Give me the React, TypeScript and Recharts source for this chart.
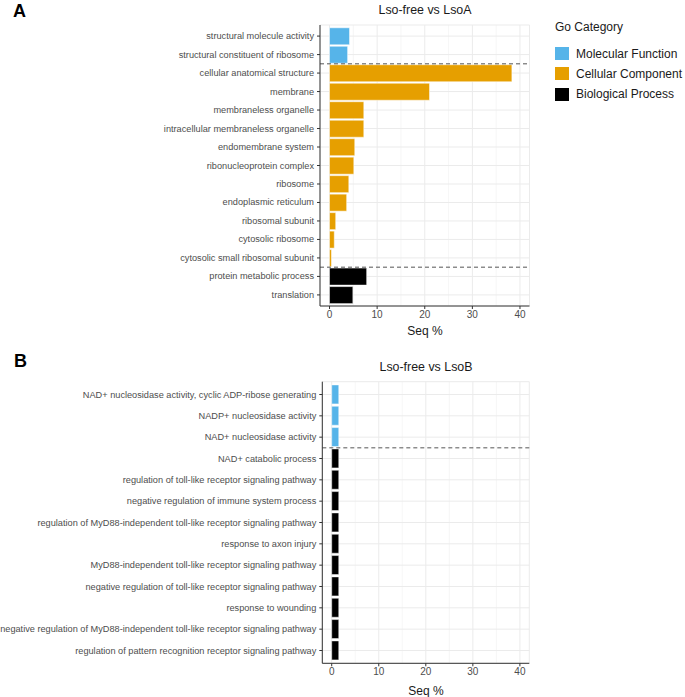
import {
  Bar,
  BarChart,
  CartesianGrid,
  Cell,
  ReferenceLine,
  XAxis,
  YAxis,
} from 'recharts'

// GO category colours (Okabe-Ito)
const CATEGORY_COLORS: Record<string, string> = {
  MF: '#56B4E9',
  CC: '#E69F00',
  BP: '#000000',
}

const LEGEND_ITEMS = [
  { key: 'MF', label: 'Molecular Function' },
  { key: 'CC', label: 'Cellular Component' },
  { key: 'BP', label: 'Biological Process' },
]

// Panel A: Lso-free vs LsoA
const termsA = [
  'structural molecule activity',
  'structural constituent of ribosome',
  'cellular anatomical structure',
  'membrane',
  'membraneless organelle',
  'intracellular membraneless organelle',
  'endomembrane system',
  'ribonucleoprotein complex',
  'ribosome',
  'endoplasmic reticulum',
  'ribosomal subunit',
  'cytosolic ribosome',
  'cytosolic small ribosomal subunit',
  'protein metabolic process',
  'translation',
]
const valuesA = [4.2, 3.8, 38.3, 21.0, 7.2, 7.2, 5.3, 5.1, 4.05, 3.6, 1.3, 1.0, 0.4, 7.8, 4.9]
const groupsA = ['MF', 'MF', 'CC', 'CC', 'CC', 'CC', 'CC', 'CC', 'CC', 'CC', 'CC', 'CC', 'CC', 'BP', 'BP']

// Panel B: Lso-free vs LsoB
const termsB = [
  'NAD+ nucleosidase activity, cyclic ADP-ribose generating',
  'NADP+ nucleosidase activity',
  'NAD+ nucleosidase activity',
  'NAD+ catabolic process',
  'regulation of toll-like receptor signaling pathway',
  'negative regulation of immune system process',
  'regulation of MyD88-independent toll-like receptor signaling pathway',
  'response to axon injury',
  'MyD88-independent toll-like receptor signaling pathway',
  'negative regulation of toll-like receptor signaling pathway',
  'response to wounding',
  'negative regulation of MyD88-independent toll-like receptor signaling pathway',
  'regulation of pattern recognition receptor signaling pathway',
]
const valuesB = [1.5, 1.5, 1.5, 1.5, 1.5, 1.5, 1.5, 1.5, 1.5, 1.5, 1.5, 1.5, 1.5]
const groupsB = ['MF', 'MF', 'MF', 'BP', 'BP', 'BP', 'BP', 'BP', 'BP', 'BP', 'BP', 'BP', 'BP']

const xTicks = [0, 10, 20, 30, 40]
const xMinorTicks = [5, 15, 25, 35]
const X_DOMAIN: [number, number] = [-2, 42]

const FONT = '"Liberation Sans", Arial, Helvetica, sans-serif'

// plain tick label, no wrapping
const TermTick = ({ x, y, payload }: { x?: number; y?: number; payload?: { value: string } }) => (
  <text x={x} y={y} textAnchor="end" dominantBaseline="central" fill="#4d4d4d" fontSize={9.2} fontFamily={FONT}>
    {payload?.value}
  </text>
)

// minor vertical grid positions, mapped through the x domain
const minorGridX = ({ offset }: any) =>
  xMinorTicks.map(
    (t) => offset.left + ((t - X_DOMAIN[0]) / (X_DOMAIN[1] - X_DOMAIN[0])) * offset.width
  )

interface PanelProps {
  terms: string[]
  values: number[]
  groups: string[]
  top: number
  height: number
  marginTop: number
  plotLeft: number
  plotRight: number
  plotHeight: number
}

function GoPanel({ terms, values, groups, top, height, marginTop, plotLeft, plotRight, plotHeight }: PanelProps) {
  const data = terms.map((term, i) => ({ term, value: values[i], group: groups[i] }))
  const n = terms.length
  // ggplot discrete expansion: 0.6 of a step on each side
  const step = plotHeight / (n + 0.2)
  const pad = step * 0.1
  const xAxisHeight = height - marginTop - plotHeight
  // dashed separators above the first term of each new GO category
  const boundaryTerms = terms.filter((_, i) => i > 0 && groups[i] !== groups[i - 1])

  return (
    <div style={{ position: 'absolute', left: 0, top, width: 685, height }}>
      <BarChart
        width={685}
        height={height}
        data={data}
        layout="vertical"
        barCategoryGap="5%"
        margin={{ top: marginTop, right: 685 - plotRight, left: 0, bottom: 0 }}
      >
        <CartesianGrid
          stroke="#f0f0f0"
          strokeWidth={0.6}
          horizontal={false}
          verticalCoordinatesGenerator={minorGridX}
        />
        <CartesianGrid stroke="#ebebeb" strokeWidth={1} />
        <XAxis
          type="number"
          domain={X_DOMAIN}
          ticks={xTicks}
          allowDataOverflow
          height={xAxisHeight}
          axisLine={{ stroke: '#333333' }}
          tickSize={3}
          tickMargin={2}
          tickLine={{ stroke: '#333333' }}
          tick={{ fill: '#4d4d4d', fontSize: 10, fontFamily: FONT }}
        />
        <XAxis
          xAxisId="top"
          orientation="top"
          type="number"
          domain={X_DOMAIN}
          allowDataOverflow
          height={0}
          tick={false}
          tickLine={false}
          axisLine={{ stroke: '#333333' }}
        />
        <YAxis
          type="category"
          dataKey="term"
          width={plotLeft}
          interval={0}
          axisLine={{ stroke: '#333333' }}
          tickSize={3}
          tickMargin={3}
          padding={{ top: pad, bottom: pad }}
          tickLine={{ stroke: '#333333' }}
          tick={<TermTick />}
        />
        <YAxis
          yAxisId="right"
          orientation="right"
          type="number"
          width={0}
          tick={false}
          tickLine={false}
          axisLine={{ stroke: '#333333' }}
        />
        <Bar dataKey="value" stroke="#ffffff" strokeWidth={0.5} isAnimationActive={false}>
          {data.map((d, i) => (
            <Cell key={`cell-${i}`} fill={CATEGORY_COLORS[d.group]} />
          ))}
        </Bar>
        {boundaryTerms.map((t) => (
          <ReferenceLine
            key={`sep-${t}`}
            y={t}
            shape={(p: any) => (
              <line
                x1={p.x1}
                x2={p.x2}
                y1={p.y1 - step / 2}
                y2={p.y2 - step / 2}
                stroke="#555555"
                strokeWidth={1}
                strokeDasharray="4 3"
              />
            )}
          />
        ))}
      </BarChart>
    </div>
  )
}

export default function App() {
  const textBase = { position: 'absolute' as const, fontFamily: FONT, whiteSpace: 'nowrap' as const, lineHeight: 1 }
  const titleStyle = { ...textBase, fontSize: 12.4, color: '#1a1a1a', transform: 'translate(-50%, -50%)' }
  const axisTitleStyle = { ...textBase, fontSize: 12, color: '#1a1a1a', transform: 'translate(-50%, -50%)' }

  return (
    <div style={{ position: 'absolute', left: 0, top: 0, width: 685, height: 697, background: '#ffffff', overflow: 'hidden' }}>
      <GoPanel
        terms={termsA}
        values={valuesA}
        groups={groupsA}
        top={0}
        height={335}
        marginTop={25}
        plotLeft={320}
        plotRight={529.5}
        plotHeight={281}
      />
      <GoPanel
        terms={termsB}
        values={valuesB}
        groups={groupsB}
        top={340}
        height={350}
        marginTop={41.7}
        plotLeft={322.3}
        plotRight={529.3}
        plotHeight={281.6}
      />

      {/* panel letters */}
      <div style={{ ...textBase, left: 13, top: 2, fontSize: 18, fontWeight: 'bold', color: '#000' }}>A</div>
      <div style={{ ...textBase, left: 14, top: 352, fontSize: 18, fontWeight: 'bold', color: '#000' }}>B</div>

      {/* titles */}
      <div style={{ ...titleStyle, left: 425, top: 10 }}>Lso-free vs LsoA</div>
      <div style={{ ...titleStyle, left: 426, top: 367 }}>Lso-free vs LsoB</div>

      {/* axis titles */}
      <div style={{ ...axisTitleStyle, left: 425, top: 331 }}>Seq %</div>
      <div style={{ ...axisTitleStyle, left: 426, top: 691 }}>Seq %</div>

      {/* legend */}
      <div style={{ ...textBase, left: 555, top: 21, fontSize: 12, color: '#1a1a1a' }}>Go Category</div>
      {LEGEND_ITEMS.map((item, i) => (
        <div key={item.key}>
          <div
            style={{
              position: 'absolute',
              left: 555,
              top: 47 + i * 20.3,
              width: 14,
              height: 13,
              background: CATEGORY_COLORS[item.key],
            }}
          />
          <div style={{ ...textBase, left: 576, top: 47.5 + i * 20.3, fontSize: 12, color: '#1a1a1a' }}>{item.label}</div>
        </div>
      ))}
    </div>
  )
}
